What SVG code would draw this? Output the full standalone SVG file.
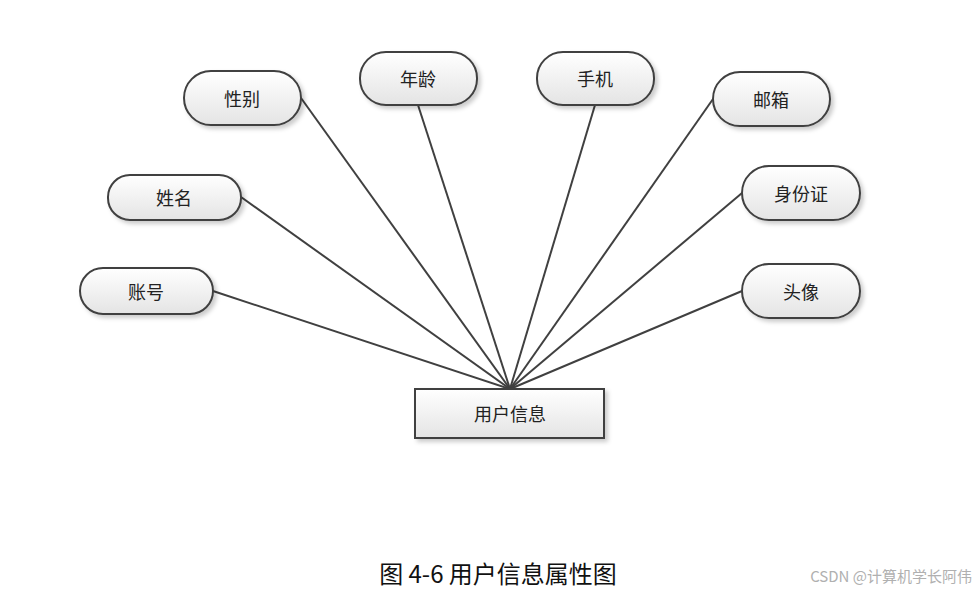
<svg xmlns="http://www.w3.org/2000/svg" width="978" height="600" viewBox="0 0 978 600">
<defs>
<linearGradient id="g" x1="0" y1="0" x2="0" y2="1"><stop offset="0" stop-color="#ffffff"/><stop offset="1" stop-color="#e4e4e4"/></linearGradient>
<filter id="sh" x="-20%" y="-20%" width="150%" height="160%"><feDropShadow dx="3" dy="3" stdDeviation="2" flood-color="#000" flood-opacity="0.2"/></filter>
</defs>
<style>
.n{fill:url(#g);stroke:#404040;stroke-width:2;filter:url(#sh)}
.t{font-family:"Noto Sans CJK SC",sans-serif;font-size:18px;fill:#222;text-anchor:middle;dominant-baseline:central}
.c{stroke:#404040;stroke-width:2;fill:none}
</style>
<rect width="978" height="600" fill="#fff"/>
<g id="connectors">
<line class="c" x1="301" y1="98" x2="510" y2="389"/>
<line class="c" x1="418" y1="105" x2="510" y2="389"/>
<line class="c" x1="595" y1="105" x2="510" y2="389"/>
<line class="c" x1="713" y1="99" x2="510" y2="389"/>
<line class="c" x1="241" y1="197" x2="510" y2="389"/>
<line class="c" x1="742" y1="193" x2="510" y2="389"/>
<line class="c" x1="213" y1="291" x2="510" y2="389"/>
<line class="c" x1="742" y1="291" x2="510" y2="389"/>
</g>
<g id="xingbie"><rect class="n" x="184" y="71" width="117" height="54" rx="27"/><text class="t" x="242" y="98">性别</text></g>
<g id="nianling"><rect class="n" x="360" y="52" width="117" height="53" rx="26"/><text class="t" x="418" y="78">年龄</text></g>
<g id="shouji"><rect class="n" x="537" y="52" width="117" height="53" rx="26"/><text class="t" x="595" y="78">手机</text></g>
<g id="youxiang"><rect class="n" x="713" y="72" width="117" height="54" rx="27"/><text class="t" x="771" y="99">邮箱</text></g>
<g id="xingming"><rect class="n" x="108" y="175" width="133" height="45" rx="22"/><text class="t" x="174" y="197">姓名</text></g>
<g id="shenfenzheng"><rect class="n" x="742" y="166" width="118" height="54" rx="27"/><text class="t" x="801" y="193">身份证</text></g>
<g id="zhanghao"><rect class="n" x="80" y="268" width="133" height="46" rx="23"/><text class="t" x="146" y="291">账号</text></g>
<g id="touxiang"><rect class="n" x="742" y="264" width="118" height="54" rx="27"/><text class="t" x="801" y="291">头像</text></g>
<g id="yonghuxinxi"><rect class="n" x="415" y="389" width="189" height="49" rx="0"/><text class="t" x="510" y="413">用户信息</text></g>
<text x="498" y="572" style="font-family:'Noto Sans CJK SC',sans-serif;font-size:24px;fill:#111;text-anchor:middle;dominant-baseline:central">图 4-6 用户信息属性图</text>
<text x="972" y="582" style="font-family:'Noto Sans CJK SC',sans-serif;font-size:15px;fill:#b0b0b0;text-anchor:end">CSDN @计算机学长阿伟</text>
</svg>
